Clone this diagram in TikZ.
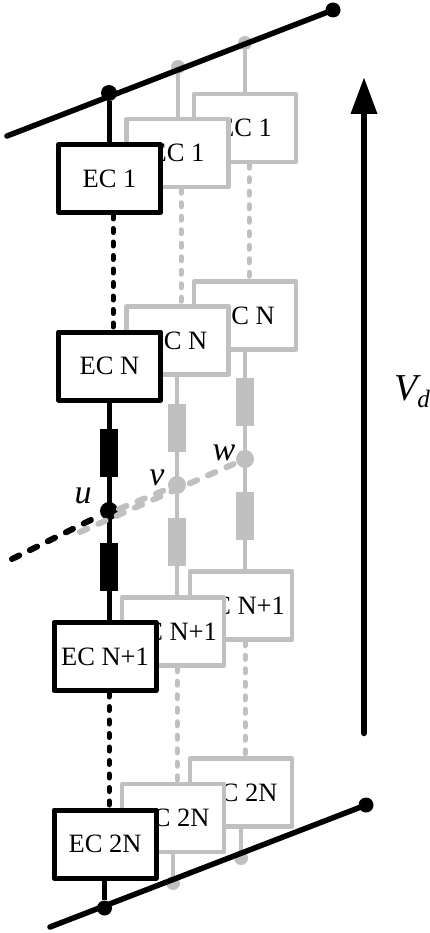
\documentclass[tikz,border=0pt]{standalone}
\usepackage{fontspec}
\setmainfont{Liberation Serif}
\usetikzlibrary{arrows.meta}
\definecolor{ecgray}{RGB}{192,192,192}
\tikzset{
  eclabel/.style={font=\fontsize{26.5}{28}\selectfont,text=black},
  ecbox/.style={draw,fill=white,rectangle,line join=round,minimum width=102pt,minimum height=68pt,inner sep=0pt,line width=5pt,eclabel},
  ecboxg/.style={ecbox,draw=ecgray,line width=4.5pt},
  wire/.style={line width=5pt},
  wireg/.style={line width=4.5pt,ecgray},
  dots/.style={line width=5pt,line cap=round,dash pattern=on 4pt off 9.5pt},
  dotsg/.style={dots,ecgray},
  slant/.style={line width=6pt,line cap=round,dash pattern=on 8pt off 12pt},
  res/.style={rectangle,fill,inner sep=0pt,minimum width=18pt,minimum height=48pt},
  dot/.style={circle,fill,inner sep=0pt,minimum size=#1},
  bus/.style={line width=5.5pt,line cap=round},
  lab/.style={font=\fontsize{34}{36}\selectfont\itshape},
}
\begin{document}
\begin{tikzpicture}[x=1pt,y=-1pt]
\useasboundingbox (0,0) rectangle (430,933);
% back gray column
\node[dot=14pt,ecgray] (bt) at (245,43) {};
\node[dot=14pt,ecgray] (bb) at (241,858) {};
\node[ecboxg] (b1) at (245,128) {EC 1};
\node[ecboxg] (bn) at (245,315.5) {EC N};
\node[ecboxg] (bp) at (241,605.5) {EC N+1};
\node[ecboxg] (bl) at (241,792.5) {EC 2N};
\node[res,ecgray] (br1) at (245,402) {};
\node[res,ecgray] (br2) at (245,516) {};
\node[dot=18pt,ecgray] (w) at (245,459) {};
\draw[wireg] (bt) -- (b1.north);
\draw[dotsg] ([xshift=4pt]b1.south) -- ([xshift=4pt,yshift=-3pt]bn.north);
\draw[wireg] (bn.south) -- (bn.south |- bp.north);
\draw[dotsg] (bp.south -| bn.south) -- (bl.north -| bn.south);
\draw[wireg] (bl.south) -- (bb);
% middle gray column
\node[dot=14pt,ecgray] (mt) at (178,67) {};
\node[dot=14pt,ecgray] (mb) at (173,883) {};
\node[ecboxg] (m1) at (177.5,153) {EC 1};
\node[ecboxg] (mn) at (177.5,340.5) {EC N};
\node[ecboxg] (mp) at (173,631.5) {EC N+1};
\node[ecboxg] (ml) at (173,818) {EC 2N};
\node[res,ecgray] (mr1) at (177,428) {};
\node[res,ecgray] (mr2) at (177,541.5) {};
\node[dot=18pt,ecgray] (v) at (177,485) {};
\draw[wireg] (mt) -- (mt |- m1.north);
\draw[dotsg] ([xshift=3.5pt]m1.south) -- ([xshift=3.5pt,yshift=-3pt]mn.north);
\draw[wireg] (v |- mn.south) -- (v |- mp.north);
\draw[dotsg] (v |- mp.south) -- (v |- ml.north);
\draw[wireg] (ml.south) -- (mb);
% front black column
\node[dot=16pt] (ft) at (109,93) {};
\node[dot=15pt] (fb) at (104.5,908) {};
\node[ecbox] (f1) at (109.5,178.5) {EC 1};
\node[ecbox] (fn) at (109.5,366) {EC N};
\node[ecbox] (fp) at (105,656.5) {EC N+1};
\node[ecbox] (fl) at (105,844) {EC 2N};
\node[res] (fr1) at (109,453) {};
\node[res] (fr2) at (109,567) {};
\node[dot=18pt] (u) at (109,511) {};
\draw[wire] (ft) -- (ft |- f1.north);
\draw[dots] ([xshift=3.5pt]f1.south) -- ([xshift=3.5pt,yshift=-3pt]fn.north);
\draw[wire] (u |- fn.south) -- (u |- fp.north);
\draw[dots] (u |- fp.south) -- (u |- fl.north);
\draw[wire] (fb |- fl.south) -- (fb);
% slanted phase lines
\coordinate (sb) at (12,559);
\coordinate (sg) at (80,532);
\draw[slant] (sb) -- (u);
\draw[slant,ecgray] (sg) -- (w);
\draw[slant,ecgray] ([shift={(10,-2)}]u.center) -- (v);
% dc buses
\node[dot=15pt] (tr) at (333,10) {};
\coordinate (tl) at (7,136);
\draw[bus] (tl) -- (tr);
\node[dot=15pt] (br) at (366,805) {};
\coordinate (bl0) at (50,927);
\draw[bus] (bl0) -- (br);
% voltage arrow
\coordinate (al) at (364,733);
\coordinate (ah) at (364,77);
\draw[line width=6.5pt,line cap=round,-{Triangle[width=25pt,length=37pt]}] (al) -- (ah);
% labels
\node[lab] at (83,496) {u};
\node[lab] at (157,478) {v};
\node[lab] at (224,453) {w};
\node[font=\fontsize{38}{40}\selectfont\itshape] at (412,392) {V\raisebox{-7pt}{\fontsize{25}{27}\selectfont d}};
\end{tikzpicture}
\end{document}
